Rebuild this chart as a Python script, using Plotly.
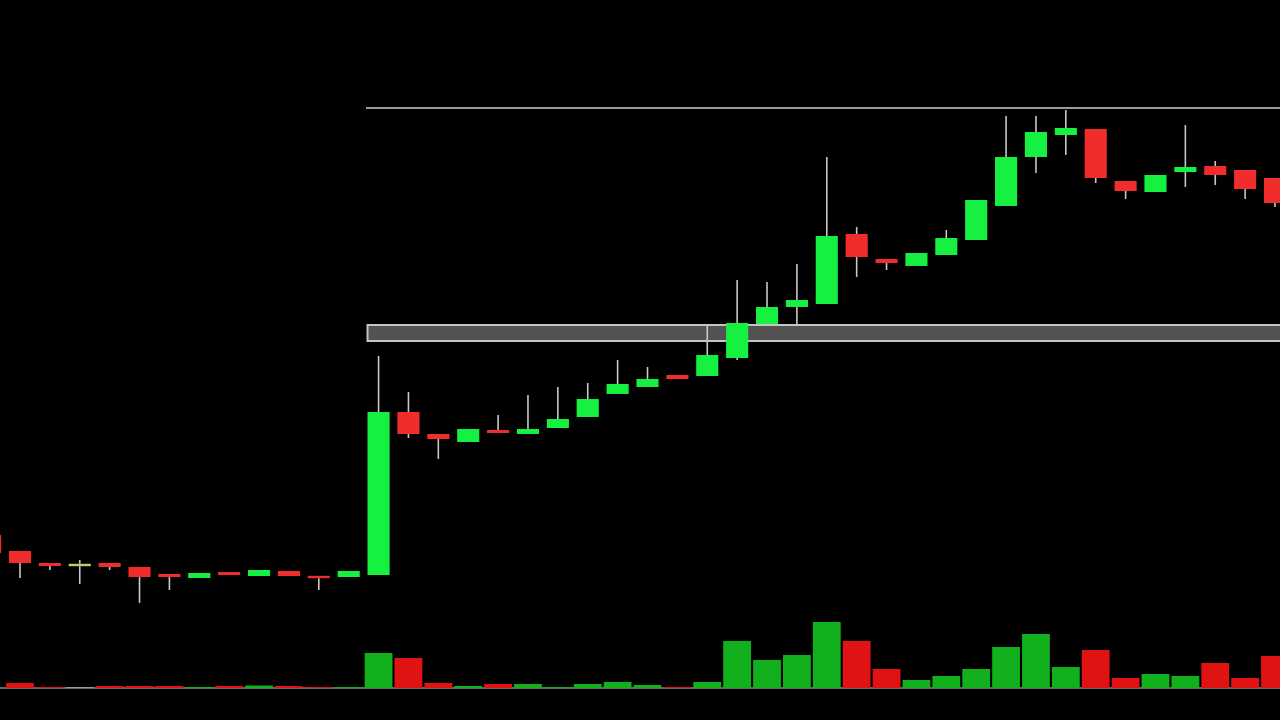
import plotly.graph_objects as go

# ---- data (index of session bar, OHLC prices, volume in thousands) ----
idx = list(range(-1, 43))
opens = [1.825, 1.745, 1.685, 1.675, 1.685, 1.665, 1.630, 1.610, 1.640, 1.620, 1.645, 1.620, 1.615,
         1.625, 2.440, 2.330, 2.290, 2.350, 2.330, 2.360, 2.415, 2.530, 2.565, 2.625, 2.620,
         2.710, 2.880, 2.965, 2.980, 3.330, 3.205, 3.170, 3.225, 3.300, 3.470, 3.715, 3.825,
         3.855, 3.595, 3.540, 3.640, 3.670, 3.650, 3.610]
highs = [1.835, 1.745, 1.685, 1.700, 1.685, 1.665, 1.630, 1.635, 1.640, 1.650, 1.645, 1.620, 1.645,
         2.720, 2.540, 2.330, 2.355, 2.425, 2.525, 2.565, 2.585, 2.700, 2.665, 2.625, 2.875,
         3.100, 3.090, 3.180, 3.715, 3.365, 3.205, 3.235, 3.350, 3.500, 3.920, 3.920, 3.950,
         3.855, 3.595, 3.625, 3.875, 3.695, 3.650, 3.610]
lows = [1.725, 1.610, 1.650, 1.580, 1.650, 1.485, 1.550, 1.610, 1.625, 1.620, 1.620, 1.550, 1.615,
        1.625, 2.310, 2.205, 2.290, 2.335, 2.330, 2.360, 2.415, 2.530, 2.565, 2.605, 2.620,
        2.700, 2.880, 2.875, 2.980, 3.115, 3.150, 3.170, 3.225, 3.300, 3.470, 3.635, 3.725,
        3.585, 3.505, 3.540, 3.565, 3.575, 3.505, 3.465]
closes = [1.735, 1.685, 1.670, 1.675, 1.665, 1.615, 1.615, 1.635, 1.625, 1.650, 1.620, 1.610, 1.645,
          2.440, 2.330, 2.305, 2.355, 2.335, 2.355, 2.405, 2.505, 2.580, 2.605, 2.605, 2.725,
          2.885, 2.965, 3.000, 3.320, 3.215, 3.185, 3.235, 3.310, 3.500, 3.715, 3.840, 3.860,
          3.610, 3.545, 3.625, 3.665, 3.625, 3.555, 3.485]
volumes = [0, 50, 10, 10, 20, 20, 20, 10, 20, 25, 20, 10, 10,
           350, 300, 50, 20, 40, 40, 10, 40, 60, 30, 10, 60,
           470, 280, 330, 660, 470, 190, 80, 120, 190, 410, 540, 210,
           380, 100, 140, 120, 250, 100, 320]

breakout_index = 12            # the gap-up bar where the levels start
resistance_level = 3.960       # upper horizontal level
support_band = (2.795, 2.875)  # grey zone

# ---- styles ----
UP = "#16f040"
DOWN = "#f02c2c"
DOJI = "#c4cc62"
VOL_UP = "#12b01c"
VOL_DOWN = "#e01212"
WICK = "#c8c8c8"
BODY_W = 0.74
VOL_W = 0.93
MIN_BODY = 0.012

body_base, body_h, body_col, vol_col = [], [], [], []
wx, wy = [], []
for x, o, h, l, c in zip(idx, opens, highs, lows, closes):
    top, bot = max(o, c), min(o, c)
    hgt = top - bot
    if hgt < MIN_BODY:
        mid = (top + bot) / 2
        bot, top, hgt = mid - MIN_BODY / 2, mid + MIN_BODY / 2, MIN_BODY
    body_base.append(bot)
    body_h.append(hgt)
    if c > o:
        body_col.append(UP); vol_col.append(VOL_UP)
    elif c < o:
        body_col.append(DOWN); vol_col.append(VOL_DOWN)
    else:
        body_col.append(DOJI); vol_col.append("#9a9a9a")
    if h > top:
        wx += [x, x, None]; wy += [top, h, None]
    if l < bot:
        wx += [x, x, None]; wy += [bot, l, None]

fig = go.Figure()

# volume
fig.add_trace(go.Bar(x=idx, y=volumes, width=VOL_W, marker=dict(color=vol_col, line_width=0),
                     yaxis="y2", hoverinfo="skip", showlegend=False))
# candle bodies
fig.add_trace(go.Bar(x=idx, y=body_h, base=body_base, width=BODY_W,
                     marker=dict(color=body_col, line_width=0), showlegend=False))
# wicks
fig.add_trace(go.Scatter(x=wx, y=wy, mode="lines", line=dict(color=WICK, width=1.6),
                         hoverinfo="skip", showlegend=False))

x_left = breakout_index - BODY_W / 2
fig.add_shape(type="line", xref="x", yref="y", x0=x_left - 0.05, x1=43,
              y0=resistance_level, y1=resistance_level,
              line=dict(color="#9c9c9c", width=2), layer="below")
fig.add_shape(type="rect", xref="x", yref="y", x0=x_left, x1=43,
              y0=support_band[0], y1=support_band[1],
              fillcolor="#525252", line=dict(color="#c4c4c4", width=2), layer="below")
# volume baseline
fig.add_shape(type="line", xref="paper", yref="y2", x0=0, x1=1, y0=0, y1=0,
              line=dict(color="#8a8a8a", width=1.5), layer="below")

fig.update_layout(
    width=1280, height=720,
    margin=dict(l=0, r=0, t=0, b=0),
    paper_bgcolor="#000000", plot_bgcolor="#000000",
    barmode="overlay",
    showlegend=False,
    xaxis=dict(range=[-0.669, 42.167], visible=False, showgrid=False, zeroline=False),
    yaxis=dict(range=[0.9, 4.5], visible=False, showgrid=False, zeroline=False),
    yaxis2=dict(range=[-320, 6880], overlaying="y", visible=False, showgrid=False, zeroline=False),
)

fig.write_html(
    "out.html",
    config={"displayModeBar": False},
    post_script="document.body.style.margin='0';document.body.style.background='#000';"
                "document.body.style.overflow='hidden';",
)
